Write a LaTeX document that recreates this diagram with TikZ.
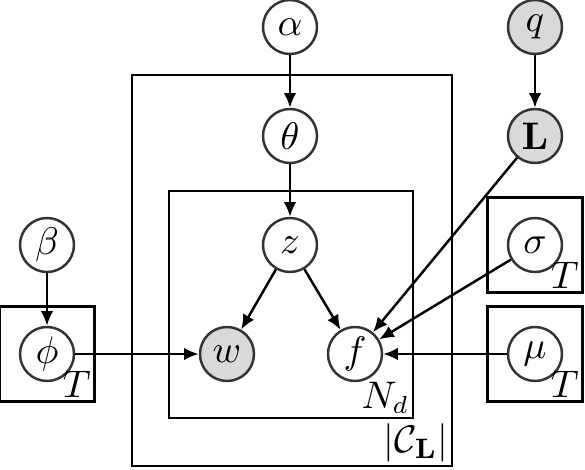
\documentclass[tikz,border=0pt]{standalone}
\usepackage{amsmath}
\usepackage{amssymb}
\usetikzlibrary{arrows.meta, positioning, fit}

\tikzset{
  latent/.style={circle, draw=black!80, line width=0.7pt, fill=white, minimum size=5.4mm, inner sep=0pt},
  obs/.style={latent, fill=black!15},
  plate/.style={draw, line width=0.8pt, rectangle, inner sep=0pt},
  platelabel/.style={anchor=south east, inner sep=1.2pt, font=\fontsize{10.5}{12}\selectfont}
}

\begin{document}
\begin{tikzpicture}[>={Latex[length=4.2pt,width=3.6pt]}, line width=0.7pt, node distance=1.09cm, on grid,
    font=\fontsize{11}{13}\selectfont]
  \useasboundingbox (0,0) rectangle (5.85,-4.70);

  \node[latent] (alpha) at (2.90,-0.27) {$\alpha$};
  \node[latent] (theta) [below=of alpha] {$\theta$};
  \node[latent] (z) [below=of theta] {$z$};
  \node[obs] (w) [below left=1.09cm and 0.63cm of z] {$w$};
  \node[latent] (f) [below right=1.09cm and 0.65cm of z] {$f$};

  \node[obs] (q) [right=2.45cm of alpha] {$q$};
  \node[obs] (L) [below=of q] {$\mathbf{L}$};
  \node[latent] (sigma) [below=of L] {$\sigma$};
  \node[latent] (mu) [below=of sigma] {$\mu$};

  \node[latent] (phi) [left=1.80cm of w] {$\phi$};
  \node[latent] (beta) [above=of phi] {$\beta$};

  % plates
  \node[plate, fit=(phi), inner sep=1.95mm] (phiplate) {};
  \node[plate, fit=(sigma), inner sep=1.95mm] (sigmaplate) {};
  \node[plate, fit=(mu), inner sep=1.95mm] (muplate) {};
  \node[plate, fit={(1.69,-1.91) (4.13,-4.18)}] (wordplate) {};
  \node[plate, fit={(1.32,-0.75) (4.52,-4.66)}] (docplate) {};

  \node[platelabel] (phiT) at (phiplate.south east) {$T$};
  \node[platelabel] (sigmaT) at (sigmaplate.south east) {$T$};
  \node[platelabel] (muT) at (muplate.south east) {$T$};
  \node[platelabel] (Nd) at (wordplate.south east) {$N_d$};
  \node[platelabel, font=\fontsize{11}{13}\selectfont] (CL) at (docplate.south east) {$|\mathcal{C}_{\mathbf{L}}|$};

  \path[->]
    (alpha) edge (theta)
    (theta) edge (z)
    (z) edge (w)
    (z) edge (f)
    (q) edge (L)
    (L) edge (f)
    (sigma) edge (f)
    (mu) edge (f)
    (beta) edge (phi)
    (phi) edge (w)
    ;
\end{tikzpicture}
\end{document}
